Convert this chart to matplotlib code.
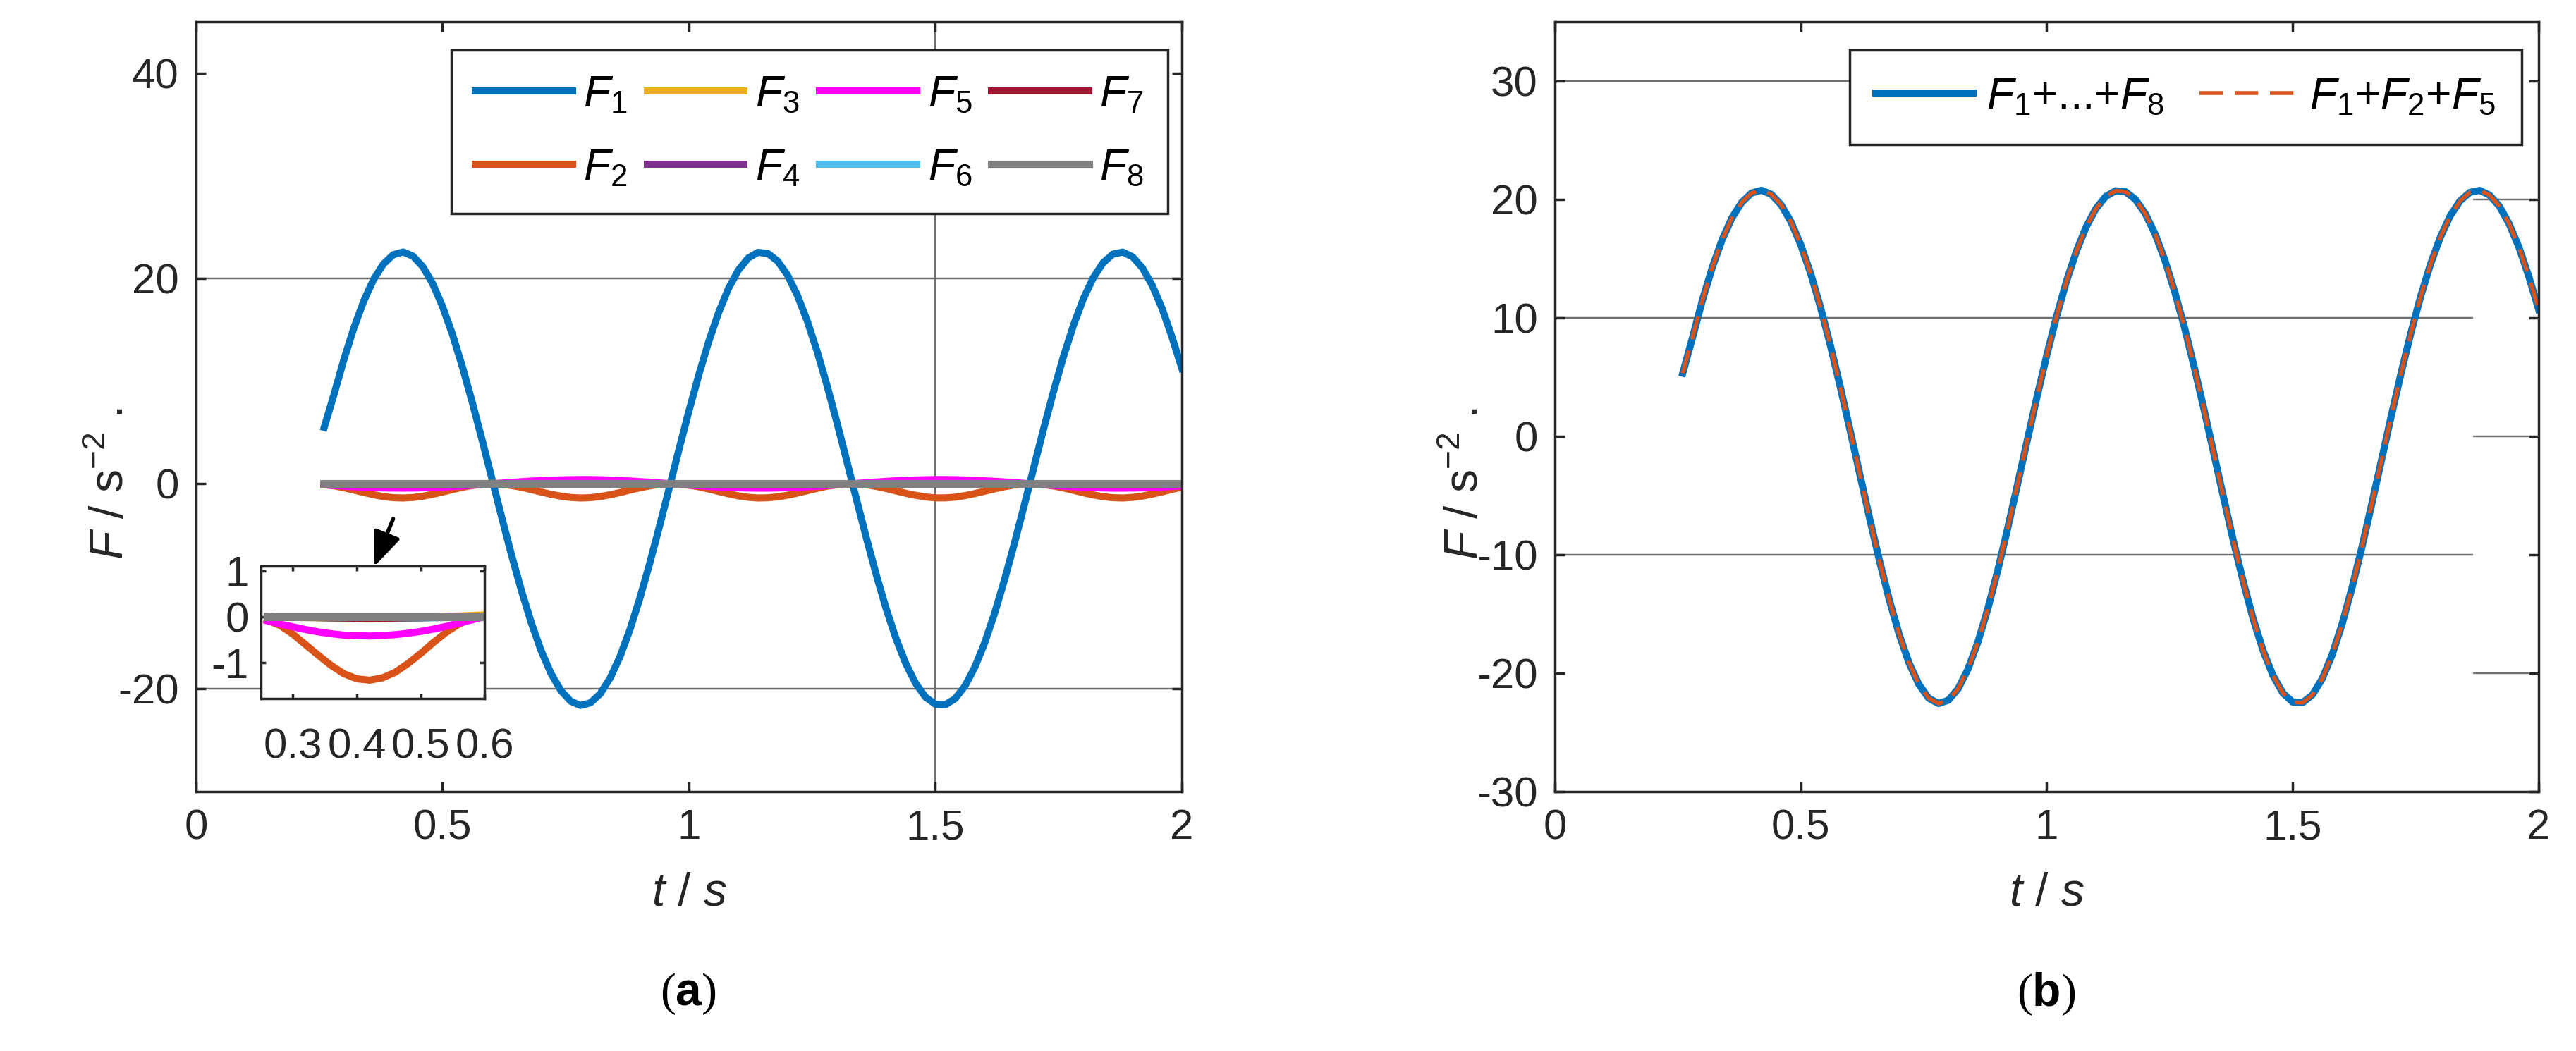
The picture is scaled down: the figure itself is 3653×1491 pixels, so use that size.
import matplotlib
matplotlib.use("Agg")
import matplotlib.pyplot as plt

plt.rcParams['font.family'] = ['Liberation Sans', 'DejaVu Sans']
plt.rcParams['mathtext.fontset'] = 'custom'
plt.rcParams['mathtext.rm'] = 'Liberation Sans'
plt.rcParams['mathtext.it'] = 'Liberation Sans:italic'
plt.rcParams['mathtext.bf'] = 'Liberation Sans:bold'
plt.rcParams['axes.unicode_minus'] = False

# time samples (s)
t = [0.26, 0.28, 0.30, 0.32, 0.34, 0.36, 0.38, 0.40, 0.42, 0.44,
     0.46, 0.48, 0.50, 0.52, 0.54, 0.56, 0.58, 0.60, 0.62, 0.64,
     0.66, 0.68, 0.70, 0.72, 0.74, 0.76, 0.78, 0.80, 0.82, 0.84,
     0.86, 0.88, 0.90, 0.92, 0.94, 0.96, 0.98, 1.00, 1.02, 1.04,
     1.06, 1.08, 1.10, 1.12, 1.14, 1.16, 1.18, 1.20, 1.22, 1.24,
     1.26, 1.28, 1.30, 1.32, 1.34, 1.36, 1.38, 1.40, 1.42, 1.44,
     1.46, 1.48, 1.50, 1.52, 1.54, 1.56, 1.58, 1.60, 1.62, 1.64,
     1.66, 1.68, 1.70, 1.72, 1.74, 1.76, 1.78, 1.80, 1.82, 1.84,
     1.86, 1.88, 1.90, 1.92, 1.94, 1.96, 1.98, 2.00]

F1 = [5.50, 8.73, 12.12, 15.17, 17.79, 19.90, 21.42, 22.33, 22.60, 22.20,
      21.17, 19.52, 17.30, 14.60, 11.47, 8.02, 4.34, 0.55, -3.24, -6.92,
      -10.38, -13.52, -16.25, -18.47, -20.13, -21.19, -21.60, -21.35, -20.46, -18.94,
      -16.85, -14.25, -11.21, -7.82, -4.18, -0.41, 3.39, 7.11, 10.63, 13.85,
      16.67, 19.02, 20.81, 22.00, 22.56, 22.46, 21.71, 20.34, 18.37, 15.88,
      12.92, 9.61, 6.02, 2.27, -1.54, -5.28, -8.86, -12.15, -15.07, -17.53,
      -19.45, -20.79, -21.49, -21.54, -20.94, -19.70, -17.87, -15.49, -12.63, -9.39,
      -5.85, -2.13, 1.68, 5.45, 9.07, 12.44, 15.45, 18.02, 20.07, 21.54,
      22.39, 22.59, 22.13, 21.04, 19.33, 17.07, 14.31, 11.25]

F2 = [-0.08, -0.19, -0.38, -0.61, -0.84, -1.06, -1.24, -1.35, -1.38, -1.33,
      -1.21, -1.02, -0.80, -0.56, -0.34, -0.16, -0.04, 0.00, -0.04, -0.16,
      -0.33, -0.56, -0.79, -1.02, -1.20, -1.33, -1.38, -1.35, -1.24, -1.07,
      -0.85, -0.61, -0.39, -0.20, -0.06, 0.00, -0.02, -0.12, -0.29, -0.50,
      -0.74, -0.97, -1.17, -1.31, -1.38, -1.36, -1.27, -1.11, -0.90, -0.67,
      -0.44, -0.23, -0.09, -0.01, -0.01, -0.09, -0.25, -0.45, -0.69, -0.92,
      -1.12, -1.28, -1.37, -1.37, -1.30, -1.15, -0.95, -0.72, -0.49, -0.28,
      -0.11, -0.02, 0.00, -0.07, -0.21, -0.40, -0.63, -0.87, -1.08, -1.25,
      -1.35, -1.38, -1.32, -1.19, -1.00, -0.78, -0.54, -0.32]

F5 = [-0.09, -0.16, -0.22, -0.28, -0.33, -0.37, -0.40, -0.41, -0.42, -0.41,
      -0.39, -0.36, -0.32, -0.27, -0.21, -0.14, -0.07, 0.00, 0.07, 0.14,
      0.21, 0.27, 0.32, 0.36, 0.39, 0.41, 0.42, 0.42, 0.40, 0.37,
      0.33, 0.28, 0.22, 0.16, 0.09, 0.02, -0.05, -0.13, -0.19, -0.25,
      -0.31, -0.35, -0.39, -0.41, -0.42, -0.42, -0.40, -0.38, -0.34, -0.29,
      -0.24, -0.17, -0.10, -0.03, 0.04, 0.11, 0.18, 0.24, 0.30, 0.34,
      0.38, 0.40, 0.42, 0.42, 0.41, 0.38, 0.35, 0.30, 0.25, 0.19,
      0.12, 0.05, -0.02, -0.09, -0.16, -0.23, -0.28, -0.33, -0.37, -0.40,
      -0.42, -0.42, -0.41, -0.39, -0.36, -0.31, -0.26, -0.20]

# F3, F4, F6, F7, F8 stay on the zero line
t_minor = [0.26, 0.35, 0.42, 0.50, 0.60, 0.78, 0.96, 1.15, 1.33, 1.51, 1.69, 1.87, 2.00]
F3 = [0.00, -0.03, -0.05, -0.02, 0.04, 0.03, 0.00, -0.04, 0.00, 0.03, 0.00, -0.04, -0.02]
F4 = [0.00, -0.02, -0.03, -0.02, 0.00, 0.02, 0.00, -0.03, 0.00, 0.02, 0.00, -0.03, -0.02]
F6 = [0.00, -0.02, -0.04, -0.03, 0.00, 0.02, 0.00, -0.03, 0.00, 0.02, 0.00, -0.03, -0.02]
F7 = [0.00, -0.02, -0.04, -0.02, 0.00, 0.02, 0.00, -0.03, 0.00, 0.02, 0.00, -0.03, -0.02]
F8 = [0.00, 0.00, 0.00, 0.00, 0.00, 0.00, 0.00, 0.00, 0.00, 0.00, 0.00, 0.00, 0.00]

# (b): F1+...+F8 and F1+F2+F5 lie on top of each other
F_sum = [5.35, 8.38, 11.52, 14.28, 16.62, 18.47, 19.78, 20.57, 20.80, 20.46,
         19.57, 18.14, 16.18, 13.77, 10.92, 7.72, 4.23, 0.55, -3.21, -6.94,
         -10.50, -13.81, -16.72, -19.13, -20.94, -22.11, -22.56, -22.28, -21.30, -19.64,
         -17.37, -14.58, -11.38, -7.86, -4.15, -0.39, 3.32, 6.86, 10.15, 13.10,
         15.62, 17.70, 19.25, 20.28, 20.76, 20.68, 20.04, 18.85, 17.13, 14.92,
         12.24, 9.21, 5.83, 2.23, -1.51, -5.26, -8.93, -12.36, -15.46, -18.11,
         -20.19, -21.67, -22.44, -22.49, -21.83, -20.47, -18.47, -15.91, -12.87, -9.48,
         -5.84, -2.10, 1.66, 5.29, 8.70, 11.81, 14.54, 16.82, 18.62, 19.89,
         20.62, 20.79, 20.40, 19.46, 17.97, 15.98, 13.51, 10.73]

colors = ['#0072BD', '#D95319', '#EDB120', '#7E2F8E',
          '#FF00FF', '#4DBEEE', '#A2142F', '#808080']
dark = '#262626'
grid_c = '#6e6e6e'
lw = 2.9

fig = plt.figure(figsize=(3653 / 250, 1491 / 250), dpi=250)
ax1 = fig.add_axes([0.0761, 0.2468, 0.3827, 0.7321])
ax2 = fig.add_axes([0.6036, 0.2468, 0.3819, 0.7321])


def style_axes(ax, tick_len=4, size=17.3):
    for s in ax.spines.values():
        s.set_color(dark)
        s.set_linewidth(1.0)
    ax.tick_params(direction='in', length=tick_len, width=1.0, colors=dark,
                   labelsize=size, top=True, right=True, pad=7)


ylab = r'$F$ / s$^{-2}$ .'
xlab = r'$t$ / $s$'

# ---- (a) ----
ax1.axhline(20, color=grid_c, lw=0.7, zorder=0)
ax1.axhline(-20, color=grid_c, lw=0.7, zorder=0)
ax1.axvline(1.5, color=grid_c, lw=0.7, zorder=0)

series = [(t, F1), (t, F2), (t_minor, F3), (t_minor, F4),
          (t, F5), (t_minor, F6), (t_minor, F7), (t_minor, F8)]
handles = []
for i, (x, y) in enumerate(series):
    h, = ax1.plot(x, y, color=colors[i], lw=3.2 if i == 7 else lw,
                  label=r'$F_{%d}$' % (i + 1))
    handles.append(h)

ax1.set_xlim(0, 2)
ax1.set_ylim(-30, 45)
ax1.set_xticks([0, 0.5, 1, 1.5, 2])
ax1.set_xticklabels(['0', '0.5', '1', '1.5', '2'])
ax1.set_yticks([-20, 0, 20, 40])
style_axes(ax1)
ax1.set_xlabel(xlab, fontsize=19, color=dark, labelpad=10)
ax1.set_ylabel(ylab, fontsize=19, color=dark)
ax1.yaxis.set_label_coords(-0.064, 0.40)

leg1 = ax1.legend(handles=handles, ncol=4, loc='upper right',
                  bbox_to_anchor=(0.986, 0.964), borderaxespad=0, fontsize=18,
                  handlelength=2.2, handletextpad=0.25, columnspacing=0.45,
                  labelspacing=0.72, borderpad=0.55, fancybox=False,
                  framealpha=1, edgecolor=dark)
leg1.get_frame().set_linewidth(1.0)

# inset (F1 is off its scale)
axi = fig.add_axes([0.1013, 0.3353, 0.0868, 0.1261])
for i, (x, y) in enumerate(series[1:], start=1):
    axi.plot(x, y, color=colors[i], lw=3.2 if i == 7 else lw)
axi.set_xlim(0.25, 0.6)
axi.set_ylim(-1.78, 1.1)
axi.set_xticks([0.3, 0.4, 0.5, 0.6])
axi.set_xticklabels(['0.3', '0.4', '0.5', '0.6'])
axi.set_yticks([-1, 0, 1])
style_axes(axi, tick_len=2)
axi.tick_params(axis='x', pad=12)
axi.tick_params(axis='y', pad=5)

# arrow from the zero line down to the inset
axi.annotate('', xy=(0.3605, -8.1), xycoords=ax1.transData,
             xytext=(0.40, -3.4), textcoords=ax1.transData,
             annotation_clip=False,
             arrowprops=dict(arrowstyle='-|>,head_length=0.6,head_width=0.24',
                             color='black', lw=1.6, mutation_scale=20,
                             shrinkA=0, shrinkB=0))

# ---- (b) ----
ax2.hlines([30, 10, -10], 0, 1.867, color=grid_c, lw=0.7, zorder=0)
ax2.hlines([20, 0, -20], 1.867, 1.98, color=grid_c, lw=0.7, zorder=0)
ax2.plot(t, F_sum, color=colors[0], lw=lw,
         label=r'$F_{\mathit{1}}$+...+$F_{\mathit{8}}$')
ax2.plot(t, F_sum, color=colors[1], lw=1.6, dashes=(6, 3),
         label=r'$F_{\mathit{1}}$+$F_{\mathit{2}}$+$F_{\mathit{5}}$')
ax2.set_xlim(0, 2)
ax2.set_ylim(-30, 35)
ax2.set_xticks([0, 0.5, 1, 1.5, 2])
ax2.set_xticklabels(['0', '0.5', '1', '1.5', '2'])
ax2.set_yticks([-30, -20, -10, 0, 10, 20, 30])
style_axes(ax2)
ax2.set_xlabel(xlab, fontsize=19, color=dark, labelpad=10)
ax2.set_ylabel(ylab, fontsize=19, color=dark)
ax2.yaxis.set_label_coords(-0.068, 0.40)

leg2 = ax2.legend(ncol=2, loc='upper right', bbox_to_anchor=(0.983, 0.964),
                  borderaxespad=0, fontsize=18, handlelength=2.2,
                  handletextpad=0.3, columnspacing=0.8, borderpad=0.6,
                  fancybox=False, framealpha=1, edgecolor=dark)
leg2.get_frame().set_linewidth(1.0)

# captions
fig.text(0.2672, 0.054, r'($\mathbf{a}$)', ha='center', va='center',
         fontsize=19, family='Liberation Serif')
fig.text(0.7944, 0.054, r'($\mathbf{b}$)', ha='center', va='center',
         fontsize=19, family='Liberation Serif')

fig.savefig('out.png', dpi=250)
